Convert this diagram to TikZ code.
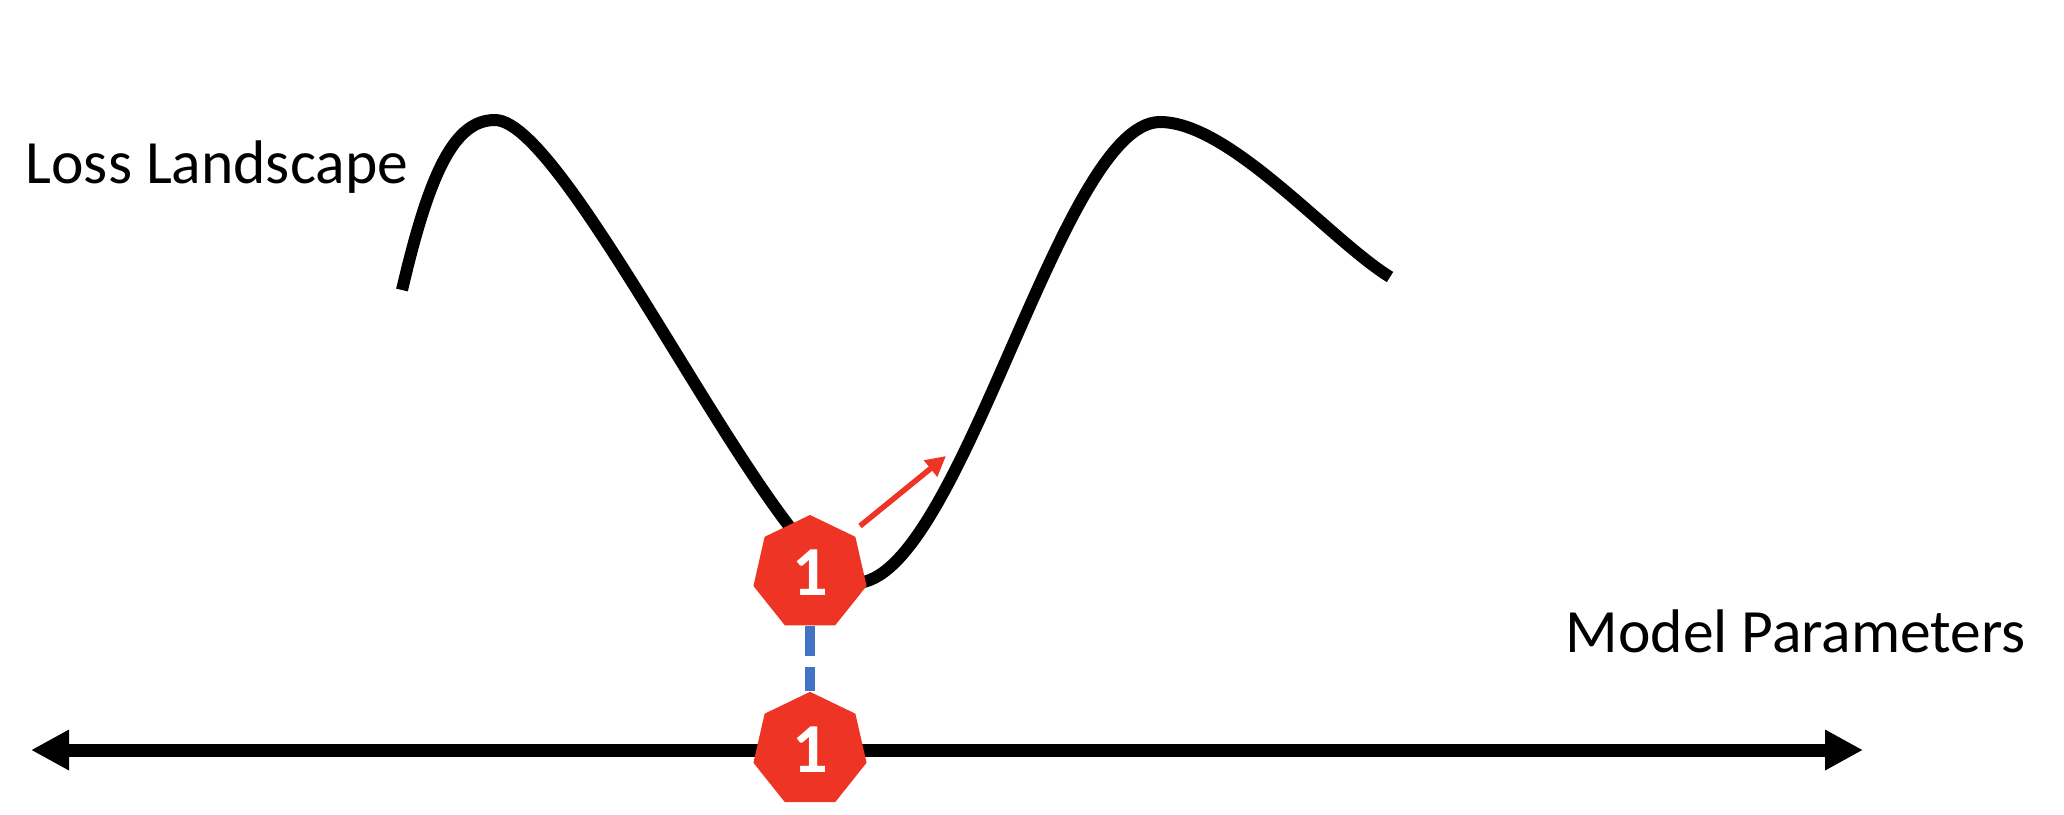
\documentclass[tikz,border=0pt]{standalone}
\usepackage{fontspec}
\setmainfont{Carlito}
\usepackage{tikz}
\usetikzlibrary{shapes,arrows.meta,positioning}
\definecolor{stepred}{RGB}{238,52,36}
\definecolor{projblue}{RGB}{68,114,196}

\begin{document}
\begin{tikzpicture}[x=0.01cm, y=-0.01cm, node distance=0.65cm,
	every node/.style={font=\fontsize{17.5}{21}\selectfont},
	hept/.style={regular polygon, regular polygon sides=7, minimum size=1.16cm, inner sep=0pt, fill=stepred, text=white, font=\fontsize{20}{24}\selectfont\bfseries}]
			\useasboundingbox (0,0) rectangle (2064,814);
			
			% loss curve
			\draw[line width=0.12cm] (402,290) .. controls (430,170) and (455,120) .. (495,120)
			.. controls (570,120) and (780,583) .. (855,583)
			.. controls (960,583) and (1060,122) .. (1160,122)
			.. controls (1230,122) and (1330,240) .. (1390,277);
			
			% parameter axis
			\coordinate (axl) at (31,750);
			\coordinate (axr) at (1863,750);
			\draw[line width=0.13cm, {Triangle[length=0.38cm, width=0.38cm]}-{Triangle[length=0.38cm, width=0.38cm]}] (axl) -- (axr);
			
			\node[anchor=base west, inner sep=0pt] (loss) at (25,183) {Loss Landscape};
			\node[anchor=base west, inner sep=0pt] (param) at (1565,652) {Model Parameters};
			
			\node[hept] (t1) at (810,573) {1};
			\node[hept, below=of t1] (b1) {1};
			\draw[projblue, line width=0.1cm, dash pattern=on 0.3cm off 0.11cm] (t1.south) -- (b1.north);
			
			\coordinate (g0) at (860,526);
			\coordinate (g1) at (946,456);
			\draw[stepred, line width=0.055cm, -{Triangle[length=0.2cm, width=0.2cm]}] (g0) -- (g1);
		\end{tikzpicture}
\end{document}
